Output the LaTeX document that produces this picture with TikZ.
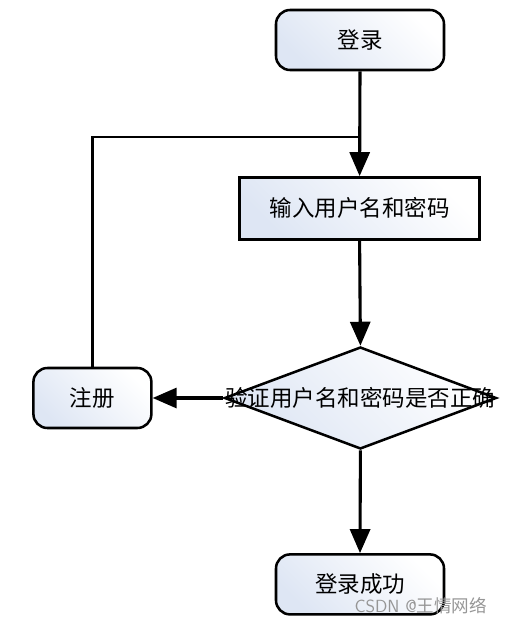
\documentclass[tikz,border=0pt]{standalone}
\usepackage{fontspec}
\usepackage{xcolor}
\usepackage{tikz}
\usetikzlibrary{arrows.meta,shapes.geometric,positioning,calc}
\newfontfamily\cjk{Noto Sans CJK SC}
\definecolor{boxfill}{RGB}{222,230,244}
\definecolor{marktext}{RGB}{150,150,150}

\tikzset{
  flowline/.style={line width=2.2pt, -{Triangle[length=0.6cm,width=0.5cm]}},
  boxshade/.style={top color=boxfill, bottom color=white, shading angle=135},
  termbox/.style={draw, line width=1.8pt, rounded corners=10pt, minimum width=4.2cm,
    minimum height=1.5cm, boxshade},
  procbox/.style={draw, line width=1.8pt, minimum width=6cm, minimum height=1.55cm,
    boxshade},
  checkbox/.style={draw, line width=1.8pt, diamond, aspect=2.68, inner sep=0pt,
    minimum width=6.8cm, minimum height=2.55cm, boxshade},
}

\begin{document}
\begin{tikzpicture}[font=\cjk\fontsize{16}{18}\selectfont]
  \useasboundingbox (0,0) rectangle (12.675,-15.625);

  % Flow boxes
  \node[termbox] (login) at (9.0,-1.0) {登录};
  \node[procbox] (input) at (8.99,-5.21) {输入用户名和密码};
  \node[checkbox] (check) at (9.01,-9.95) {};
  \node (checktext) at (check.center) {验证用户名和密码是否正确};
  \node[termbox, minimum width=2.95cm] (register) at (2.31,-9.95) {注册};
  \node[termbox] (success) at (9.0,-14.61) {登录成功};

  % Connectors
  \coordinate (join) at (login.south |- 0,-3.425);
  \draw[flowline] (login.south) -- (input.north);
  \draw[flowline] (input.south) -- (check.north);
  \draw[flowline] (check.west) -- (register.east);
  \draw[flowline] (check.south) -- (success.north);
  \draw[line width=1.8pt] (register.north) |- (join);

  % Watermark
  \node[marktext, font=\sffamily\fontsize{12.5}{14}\selectfont, anchor=east] (mark) at (12.3,-15.15)
    {CSDN @{\cjk 王情网络}};
\end{tikzpicture}
\end{document}
